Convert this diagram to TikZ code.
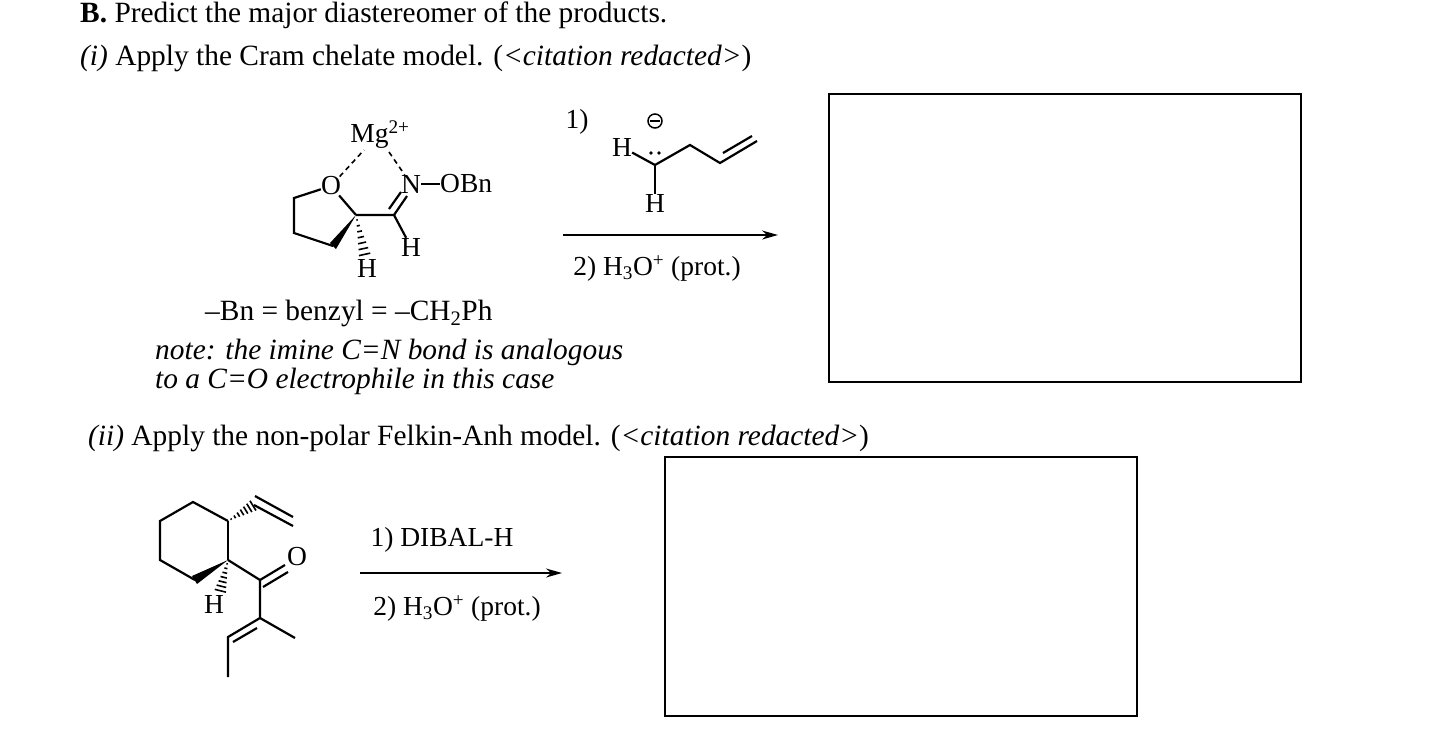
\documentclass[tikz,border=0pt]{standalone}
\usepackage{fontspec}
\setmainfont{Liberation Serif}
\usetikzlibrary{arrows.meta,calc}
\begin{document}
\begin{tikzpicture}[x=1pt,y=-1pt,
  bond/.style={line width=2.2pt},
  lbl/.style={inner sep=0pt,font=\fontsize{27.5}{29}\selectfont},
  txt/.style={anchor=base west,inner sep=0pt,font=\fontsize{29.4}{31}\selectfont},
  box/.style={draw,line width=2.2pt},
  dsh/.style={line width=1.6pt,dash pattern=on 5pt off 4pt},
  rxn/.style={line width=1.6pt,-{Stealth[length=16pt,width=9pt]}}]
\useasboundingbox (0,0) rectangle (1436,729);
\newcommand\hashb[2]{\foreach \t in {0.12,0.26,0.40,0.54,0.68,0.82,0.96}
  \draw[line width=1.6pt] ($(#1)!\t!(#2)!{\t*6pt}!90:(#2)$) -- ($(#1)!\t!(#2)!{\t*6pt}!-90:(#2)$);}
% texts
\node[txt] (t1) at (80,22) {\textbf{B.} Predict the major diastereomer of the products.};
\node[txt] (t2) at (80,65) {\textit{(i)} Apply the Cram chelate model. (\textit{<citation redacted>})};
\node[txt] (t3) at (205,320) {–Bn = benzyl = –CH\textsubscript{2}Ph};
\node[txt,font=\itshape\fontsize{29.4}{31}\selectfont] (t4) at (155,359) {note: the imine C=N bond is analogous};
\node[txt,font=\itshape\fontsize{29.4}{31}\selectfont] (t5) at (155,388) {to a C=O electrophile in this case};
\node[txt] (t6) at (88,445) {\textit{(ii)} Apply the non-polar Felkin-Anh model. (\textit{<citation redacted>})};
% boxes
\draw[box] (829,94) rectangle (1301,382);
\draw[box] (665,457) rectangle (1137,716);
% molecule 1
\node[lbl] (mg) at (380,135) {Mg\textsuperscript{2+}};
\node[lbl] (o1) at (331,186) {O};
\node[lbl] (n1) at (411,184) {N};
\node[lbl,anchor=west] (obn) at (440,184) {OBn};
\coordinate (r1) at (294,198);
\coordinate (r2) at (294,233);
\coordinate (r3) at (333,246);
\coordinate (c2) at (356,215);
\coordinate (ci) at (394,215);
\coordinate (nb) at (407,196);
\node[lbl] (h1) at (367,268) {H};
\node[lbl] (h2) at (411,247) {H};
\draw[bond] (o1) -- (r1) -- (r2) -- (r3);
\fill (c2) -- (330,243) -- (336,249) -- cycle;
\draw[bond] (c2) -- (o1);
\coordinate (h1t) at (365,256);
\hashb{c2}{h1t}
\draw[bond] (c2) -- (ci) -- (h2);
\draw[bond] (ci) -- (nb);
\draw[bond] (389,209) -- (401,192);
\draw[bond] (n1) -- (obn);
\coordinate (mo) at (364,150);
\coordinate (mn) at (389,152);
\draw[dsh] (o1) -- (mo);
\draw[dsh] (mn) -- (n1);
% reagent
\node[lbl] (one) at (577,122) {1)};
\node[lbl] (hr1) at (622,147) {H};
\coordinate (ca) at (655,165);
\coordinate (cb) at (690,145);
\coordinate (cc) at (720,163);
\coordinate (cd) at (757,141);
\node[lbl] (hr2) at (655,203) {H};
\draw[bond] (hr1) -- (ca) -- (cb) -- (cc) -- (cd);
\draw[bond] (723,153) -- (752,136);
\draw[bond] (ca) -- (hr2);
\fill (651,153) circle (1.8pt) (659,153) circle (1.8pt);
\node[draw,circle,line width=1.5pt,inner sep=0pt,minimum size=14pt] (neg) at (655,121) {};
\draw[line width=1.8pt] (650,121) -- (660,121);
\coordinate (a1s) at (563,235);
\coordinate (a1e) at (778,235);
\draw[rxn] (a1s) -- (a1e);
\node[lbl] (rg2) at (657,268) {2) H\textsubscript{3}O\textsuperscript{+} (prot.)};
% molecule 2
\coordinate (m1) at (193,502);
\coordinate (m2) at (228,521);
\coordinate (m3) at (228,560);
\coordinate (m4) at (195,580);
\coordinate (m5) at (160,560);
\coordinate (m6) at (160,521);
\draw[bond] (m2) -- (m1) -- (m6) -- (m5) -- (m4);
\draw[bond] (m2) -- (m3);
\fill (m3) -- (192,576) -- (197,584) -- cycle;
\coordinate (v1) at (254,505);
\coordinate (v2) at (293,526);
\hashb{m2}{v1}
\draw[bond] (v1) -- (v2);
\draw[bond] (255,496) -- (293,517);
\node[lbl] (hm) at (214,604) {H};
\coordinate (hmt) at (220,592);
\hashb{m3}{hmt}
\coordinate (k) at (260,580);
\node[lbl] (om) at (297,557) {O};
\coordinate (ob) at (285,565);
\draw[bond] (m3) -- (k) -- (ob);
\draw[bond] (263,587) -- (288,572);
\coordinate (k2) at (260,618);
\coordinate (me) at (295,638);
\coordinate (k3) at (228,637);
\coordinate (k4) at (228,677);
\draw[bond] (k) -- (k2) -- (me);
\draw[bond] (k2) -- (k3) -- (k4);
\draw[bond] (257,628) -- (233,642);
\coordinate (a2s) at (360,573);
\coordinate (a2e) at (562,573);
\draw[rxn] (a2s) -- (a2e);
\node[lbl] (d1) at (442,540) {1) DIBAL-H};
\node[lbl] (d2) at (457,608) {2) H\textsubscript{3}O\textsuperscript{+} (prot.)};
\end{tikzpicture}
\end{document}
